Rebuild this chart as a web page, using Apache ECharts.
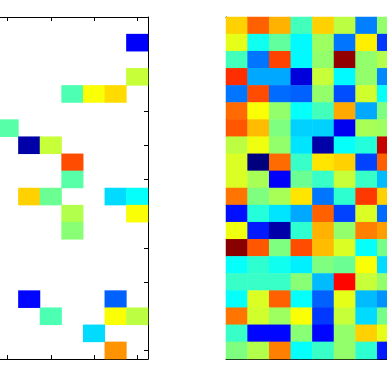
<!DOCTYPE html>
<html>
<head>
<meta charset="utf-8">
<script src="https://cdn.jsdelivr.net/npm/echarts@6/dist/echarts.min.js"></script>
<style>html,body{margin:0;padding:0;background:#fff;}#c{width:387px;height:387px;}</style>
</head>
<body>
<div id="c"></div>
<script>
// column / row categories (10 columns x 20 rows per panel)
var cols = ['1','2','3','4','5','6','7','8','9','10'];
var rows = ['1','2','3','4','5','6','7','8','9','10','11','12','13','14','15','16','17','18','19','20'];

// left panel: sparse cells [colIndex, rowIndex, value]
var leftCells = [
  [9,1,0.12],
  [9,3,0.57],
  [6,4,0.45],[7,4,0.62],[8,4,0.66],
  [3,6,0.46],
  [4,7,0.04],[5,7,0.57],
  [6,8,0.80],
  [6,9,0.46],
  [4,10,0.67],[5,10,0.48],[8,10,0.34],[9,10,0.38],
  [6,11,0.55],[9,11,0.62],
  [6,12,0.51],
  [4,16,0.13],[8,16,0.22],
  [5,17,0.45],[8,17,0.62],[9,17,0.56],
  [7,18,0.34],
  [8,19,0.73]
];

// right panel: dense values, rows top->bottom, visible columns 0..7
var rightRows = [
  [0.67,0.78,0.70,0.44,0.67,0.56,0.25,0.52],
  [0.60,0.39,0.47,0.37,0.53,0.24,0.64,0.18],
  [0.44,0.24,0.81,0.37,0.52,0.98,0.52,0.55],
  [0.83,0.29,0.29,0.09,0.57,0.37,0.52,0.26],
  [0.24,0.80,0.23,0.22,0.52,0.20,0.58,0.38],
  [0.77,0.62,0.52,0.38,0.44,0.71,0.29,0.50],
  [0.79,0.69,0.50,0.33,0.33,0.11,0.54,0.53],
  [0.56,0.61,0.52,0.35,0.04,0.38,0.41,0.93],
  [0.59,0.00,0.77,0.43,0.65,0.67,0.19,0.78],
  [0.59,0.54,0.12,0.48,0.43,0.57,0.43,0.31],
  [0.76,0.50,0.54,0.65,0.24,0.42,0.82,0.67],
  [0.14,0.41,0.35,0.29,0.78,0.19,0.59,0.23],
  [0.61,0.15,0.04,0.42,0.70,0.52,0.75,0.72],
  [0.99,0.79,0.50,0.80,0.69,0.59,0.38,0.49],
  [0.38,0.42,0.39,0.36,0.50,0.48,0.62,0.34],
  [0.43,0.43,0.43,0.51,0.31,0.87,0.57,0.52],
  [0.38,0.59,0.78,0.38,0.22,0.60,0.31,0.27],
  [0.76,0.58,0.53,0.62,0.18,0.57,0.34,0.49],
  [0.43,0.13,0.13,0.51,0.13,0.52,0.67,0.60],
  [0.50,0.55,0.75,0.38,0.43,0.52,0.42,0.15]
];

var jet = ['#00007F','#0000FF','#007FFF','#00FFFF','#7FFF7F','#FFFF00','#FF7F00','#FF0000','#7F0000'];

var rightCells = [];
rightRows.forEach(function(r, ri){ r.forEach(function(v, ci){ rightCells.push([ci, ri, v]); }); });

function tick(){ return {show:true, inside:true, length:4, alignWithLabel:true,
  interval:function(i){return i%2===1;}, lineStyle:{color:'#000',width:1}}; }
function line(){ return {show:true, onZero:false, lineStyle:{color:'#000',width:1}}; }

var xAxes = [], yAxes = [];
[0,1].forEach(function(g){
  ['bottom','top'].forEach(function(p){
    xAxes.push({type:'category', gridIndex:g, position:p, data:cols, boundaryGap:true,
      axisLine:line(), axisTick:tick(), axisLabel:{show:false}, splitLine:{show:false}});
  });
  ['left','right'].forEach(function(p){
    yAxes.push({type:'category', gridIndex:g, position:p, data:rows, inverse:true, boundaryGap:true,
      axisLine:line(), axisTick:tick(), axisLabel:{show:false}, splitLine:{show:false}});
  });
});

var chart = echarts.init(document.getElementById('c'), null, {renderer:'canvas'});
chart.setOption({
  backgroundColor:'#fff',
  animation:false,
  grid:[
    {left:-68, top:17, width:216, height:342, outerBoundsMode:'none', containLabel:false},
    {left:226, top:17, width:216, height:342, outerBoundsMode:'none', containLabel:false}
  ],
  xAxis:xAxes,
  yAxis:yAxes,
  visualMap:{show:false, min:0, max:1, calculable:false, inRange:{color:jet}},
  series:[
    {type:'heatmap', xAxisIndex:0, yAxisIndex:0, data:leftCells, emphasis:{disabled:true}, z:1},
    {type:'heatmap', xAxisIndex:2, yAxisIndex:2, data:rightCells, emphasis:{disabled:true}, z:1}
  ]
});
</script>
</body>
</html>
